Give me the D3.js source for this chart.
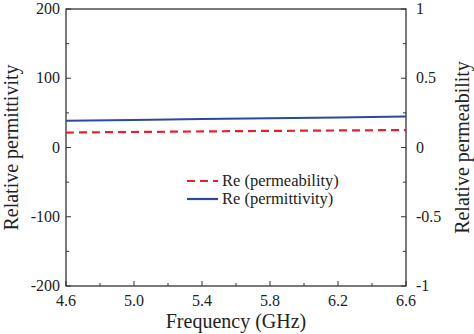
<!DOCTYPE html>
<html><head><meta charset="utf-8">
<script src="https://cdn.jsdelivr.net/npm/d3@7"></script>
<style>body{margin:0;background:#fff}svg{display:block}text{font-family:"Liberation Serif","Times New Roman",serif;fill:#222}</style>
</head><body><svg id="c" width="474" height="334"></svg>
<script>
const freq = [4.6, 5.0, 5.4, 5.8, 6.2, 6.6];
const permittivity = [38.5, 39.8, 41.0, 42.2, 43.4, 44.6];
const permeability = [0.108, 0.112, 0.116, 0.120, 0.123, 0.126];
const xTicks = [4.6, 5.0, 5.4, 5.8, 6.2, 6.6];
const yLeftTicks = [-200, -100, 0, 100, 200];
const yRightTicks = [-1, -0.5, 0, 0.5, 1];
const legendLabels = ["Re (permeability)", "Re (permittivity)"];

const svg = d3.select("#c");
const L = 66, R = 406, T = 9, B = 286;
const x = d3.scaleLinear().domain([4.6, 6.6]).range([L, R]);
const yl = d3.scaleLinear().domain([-200, 200]).range([B, T]);
const yr = d3.scaleLinear().domain([-1, 1]).range([B, T]);
const ink = "#333";

// frame
svg.append("rect").attr("x", L).attr("y", T).attr("width", R - L).attr("height", B - T)
  .attr("fill", "none").attr("stroke", ink).attr("stroke-width", 1.3);

// ticks
const g = svg.append("g").attr("stroke", ink).attr("stroke-width", 1);
d3.range(-200, 201, 50).forEach(v => {
  const len = v % 100 === 0 ? 5 : 3;
  g.append("line").attr("x1", L).attr("x2", L + len).attr("y1", yl(v)).attr("y2", yl(v));
});
d3.range(-1, 1.01, 0.25).forEach(v => {
  const major = Math.abs(v * 2 - Math.round(v * 2)) < 1e-6;
  const len = major ? 5 : 3;
  g.append("line").attr("x1", R).attr("x2", R - len).attr("y1", yr(v)).attr("y2", yr(v));
});
d3.range(4.6, 6.61, 0.2).forEach((v, i) => {
  const len = i % 2 === 0 ? 5 : 3;
  g.append("line").attr("x1", x(v)).attr("x2", x(v)).attr("y1", B).attr("y2", B - len);
});

// tick labels
yLeftTicks.forEach(v => svg.append("text").attr("x", L - 6).attr("y", yl(v) + 5)
  .attr("text-anchor", "end").attr("font-size", 16).text(v));
yRightTicks.forEach(v => svg.append("text").attr("x", R + 10).attr("y", yr(v) + 5)
  .attr("text-anchor", "start").attr("font-size", 16).text(v));
xTicks.forEach(v => svg.append("text").attr("x", x(v)).attr("y", B + 20)
  .attr("text-anchor", "middle").attr("font-size", 16).text(v.toFixed(1)));

// titles
svg.append("text").attr("x", 236).attr("y", 328).attr("text-anchor", "middle")
  .attr("font-size", 20).text("Frequency (GHz)");
svg.append("text").attr("transform", `translate(18,${(T + B) / 2}) rotate(-90)`)
  .attr("text-anchor", "middle").attr("font-size", 20).text("Relative permittivity");
svg.append("text").attr("transform", `translate(469,${(T + B) / 2}) rotate(-90)`)
  .attr("text-anchor", "middle").attr("font-size", 20).text("Relative permeability");

// lines
const lineL = d3.line().x((d, i) => x(freq[i])).y(d => yl(d));
const lineR = d3.line().x((d, i) => x(freq[i])).y(d => yr(d));
svg.append("path").datum(permittivity).attr("d", lineL).attr("fill", "none")
  .attr("stroke", "#2b4a9e").attr("stroke-width", 2);
svg.append("path").datum(permeability).attr("d", lineR).attr("fill", "none")
  .attr("stroke", "#e8202a").attr("stroke-width", 2.2).attr("stroke-dasharray", "8,5");

// legend
const lg = [{c: "#e8202a", d: "8,5", y: 181}, {c: "#2b4a9e", d: null, y: 199}];
lg.forEach((o, i) => {
  svg.append("line").attr("x1", 187).attr("x2", 218).attr("y1", o.y).attr("y2", o.y)
    .attr("stroke", o.c).attr("stroke-width", 2.2).attr("stroke-dasharray", o.d);
  svg.append("text").attr("x", 222).attr("y", o.y + 5).attr("font-size", 16.5).text(legendLabels[i]);
});
</script></body></html>
